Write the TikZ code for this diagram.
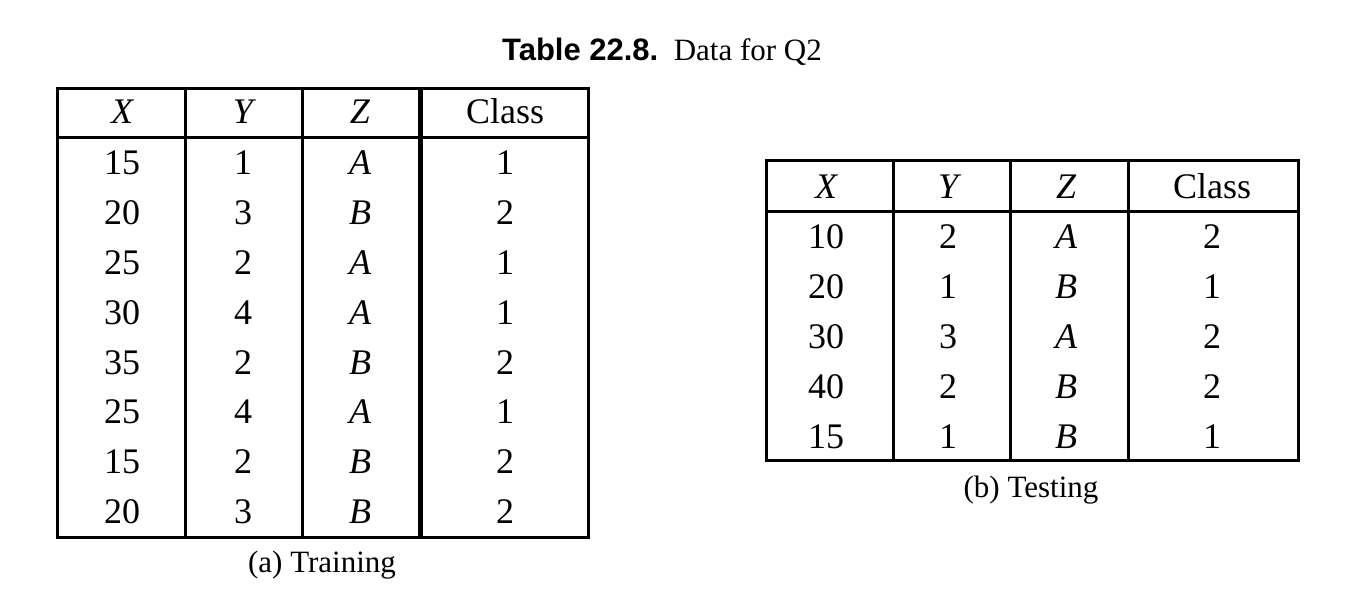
\documentclass[tikz,border=0pt]{standalone}
\usepackage{fontspec}
\setmainfont{Liberation Serif}
\newfontfamily\titlesans{Liberation Sans}
\begin{document}
\begin{tikzpicture}[x=1pt,y=-1pt,
  cell/.style={font=\fontsize{36}{36}\selectfont, inner sep=0pt, anchor=base},
  frame/.style={line width=3pt}]
\useasboundingbox (0,0) rectangle (1364,606);
\node[inner sep=0pt,anchor=base] (title) at (662,60) {\fontsize{31}{31}\selectfont{\titlesans\bfseries Table 22.8.}\ \ Data for Q2};
% Left table
\draw[frame] (57,88) rectangle (588,537);
\draw[frame] (57,137) -- (588,137);
\draw[frame] (185,88) -- (185,537);
\draw[frame] (302,88) -- (302,537);
\draw[line width=5pt] (420,88) -- (420,537);
\foreach \t [count=\i] in {\itshape X,\itshape Y,\itshape Z,Class}{
  \pgfmathsetmacro{\cx}{{122,243,360,505}[\i-1]}
  \node[cell] (lh\i) at (\cx,123) {\t};}
\foreach \a/\b/\c/\d [count=\r] in {15/1/A/1,20/3/B/2,25/2/A/1,30/4/A/1,35/2/B/2,25/4/A/1,15/2/B/2,20/3/B/2}{
  \pgfmathsetmacro{\yy}{125+49.8*\r}
  \node[cell] (la\r) at (122,\yy) {\a};
  \node[cell] (lb\r) at (243,\yy) {\b};
  \node[cell] (lc\r) at (360,\yy) {\itshape\c};
  \node[cell] (ld\r) at (505,\yy) {\d};}
\node[inner sep=0pt,anchor=base] (capa) at (322,572) {\fontsize{31}{31}\selectfont (a) Training};
% Right table
\draw[frame] (766,160) rectangle (1298,460);
\draw[frame] (766,211) -- (1298,211);
\draw[frame] (893,160) -- (893,460);
\draw[frame] (1010,160) -- (1010,460);
\draw[frame] (1128,160) -- (1128,460);
\foreach \t [count=\i] in {\itshape X,\itshape Y,\itshape Z,Class}{
  \pgfmathsetmacro{\cx}{{826,948,1066,1212}[\i-1]}
  \node[cell] (rh\i) at (\cx,198) {\t};}
\foreach \a/\b/\c/\d [count=\r] in {10/2/A/2,20/1/B/1,30/3/A/2,40/2/B/2,15/1/B/1}{
  \pgfmathsetmacro{\yy}{199+49.8*\r}
  \node[cell] (ra\r) at (826,\yy) {\a};
  \node[cell] (rb\r) at (948,\yy) {\b};
  \node[cell] (rc\r) at (1066,\yy) {\itshape\c};
  \node[cell] (rd\r) at (1212,\yy) {\d};}
\node[inner sep=0pt,anchor=base] (capb) at (1031,497) {\fontsize{31}{31}\selectfont (b) Testing};
\end{tikzpicture}
\end{document}
